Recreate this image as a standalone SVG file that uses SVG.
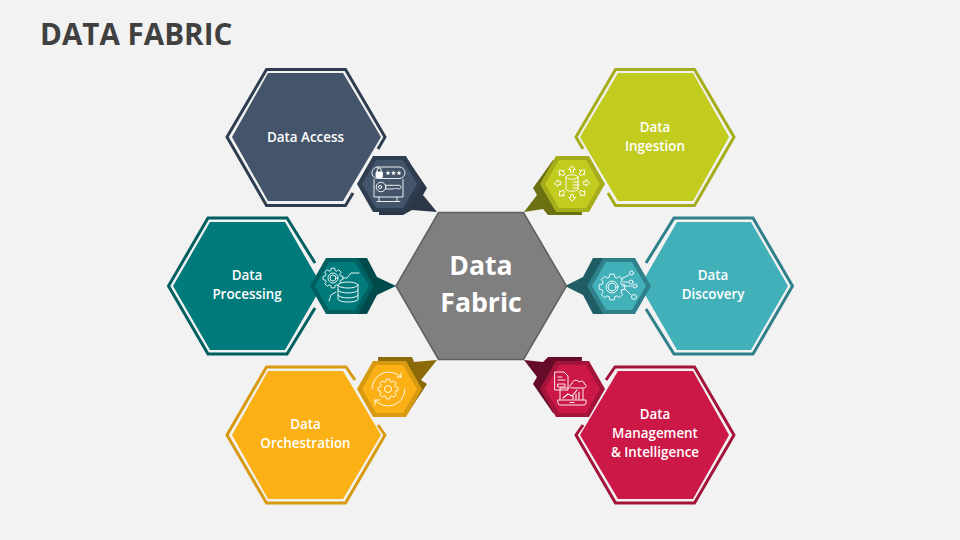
<svg xmlns="http://www.w3.org/2000/svg" width="960" height="540" viewBox="0 0 960 540">
<style>
text{font-family:"Open Sans","Noto Sans","Liberation Sans",sans-serif;text-anchor:middle;fill:#fff;font-weight:600;font-size:13.400px}
.title{font-size:29.600px;font-weight:700;fill:#404040;text-anchor:start}
.big{font-size:26.600px;font-weight:700}
.ring{fill:none;stroke-width:3}
.ic{fill:none;stroke:#fff;stroke-width:0.900;stroke-linejoin:round;stroke-linecap:round}
.star{fill:#fff;stroke:none}
</style>
<defs>
<polygon id="gear" points="7.5,-2.15 9.85,-1.74 9.85,1.74 7.5,2.15 6.82,3.78 8.19,5.74 5.74,8.19 3.78,6.82 2.15,7.5 1.74,9.85 -1.74,9.85 -2.15,7.5 -3.78,6.82 -5.74,8.19 -8.19,5.74 -6.82,3.78 -7.5,2.15 -9.85,1.74 -9.85,-1.74 -7.5,-2.15 -6.82,-3.78 -8.19,-5.74 -5.74,-8.19 -3.78,-6.82 -2.15,-7.5 -1.74,-9.85 1.74,-9.85 2.15,-7.5 3.78,-6.82 5.74,-8.19 8.19,-5.74 6.82,-3.78"/>
<path id="arr" d="M0,-3.500L3.200,0H1.400V2.800H-1.400V0H-3.200Z"/>
<polygon id="star" points="0,-2.400 0.700,-0.800 2.400,-0.700 1.100,0.400 1.500,2.100 0,1.200 -1.500,2.100 -1.100,0.400 -2.400,-0.700 -0.700,-0.800"/>
</defs>
<rect width="960" height="540" fill="#f2f2f2"/>
<text class="title" x="40" y="45">DATA FABRIC</text>

<g id="connectors">
<polygon fill="#2b3747" points="379,215 403,215 412,210 437,212 423,195 427,188 408,160 380,160"/>
<polygon fill="#6b7010" points="582,215 548,215 543,209 524,212 537,195 533,188 553,160 580,160"/>
<polygon fill="#004a4b" points="340,258 367,258 377,277 396,286 377,295 367,314 340,314"/>
<polygon fill="#1f5c63" points="621,258 593,258 583,277 565,286 583,295 593,314 621,314"/>
<polygon fill="#8c6a08" points="378,357 412,357 414,362 437,360 421,380 427,384 408,413 380,413"/>
<polygon fill="#650d28" points="582,357 548,357 543,362 524,360 537,377 533,384 553,413 580,413"/>
</g>

<g id="node-center">
<polygon points="396,286 438.500,212.500 523.500,212.500 566.500,286 523.500,359.500 438.500,359.500" fill="#7f7f7f" stroke="#5f5f5f" stroke-width="1.500"/>
<text class="big" x="481" y="275">Data</text>
<text class="big" x="481" y="312">Fabric</text>
</g>

<g id="node-access">
<polyline class="ring" stroke="#2f3d50" points="378,149 385,137 345.500,69.500 266.500,69.500 227,137 266.500,205.500 345.500,205.500 353,193"/>
<polygon fill="#44546a" points="232,137 268,73 343,73 381,137 343,201 268,201"/>
<text x="305.500" y="142">Data Access</text>
<polygon fill="#2f3d50" points="357,184 373,156 406,156 422,184 406,212 373,212"/>
<polygon fill="#44546a" points="362,184 376,160 403,160 417,184 403,208 376,208"/>
<g class="ic">
<rect x="372" y="167" width="33" height="11.500" rx="5.700"/>
<rect x="376" y="172" width="6.500" height="5.500" rx="0.800" fill="#fff"/><path d="M377.200,172v-2a2,2 0 0 1 4,0v2"/>
<path d="M374,179.500v17.500h29v-17.500M379,197v4M397,197v4M377,201.500h23"/>
<circle cx="381" cy="187" r="4.800"/><circle cx="380" cy="187" r="1.600"/>
<path d="M385.500,185.300h14l2,1.700l-2,2h-2l-1,-1l-1,1l-1,-1l-1,1h-8"/>
<use class="star" href="#star" transform="translate(388,173)"/>
<use class="star" href="#star" transform="translate(393.500,173)"/>
<use class="star" href="#star" transform="translate(399,173)"/>
</g>
</g>

<g id="node-ingestion">
<polyline class="ring" stroke="#a5ae1a" points="583,149 576,137 615.500,69.500 694.500,69.500 734,137 694.500,205.500 615.500,205.500 608,193"/>
<polygon fill="#c1cc1f" points="580,137 618,73 693,73 729,137 693,201 618,201"/>
<text x="655" y="131.500">Data</text><text x="655" y="150.500">Ingestion</text>
<polygon fill="#a5ae1a" points="540,184 556,156 589,156 605,184 589,212 556,212"/>
<polygon fill="#c1cc1f" points="545,184 559,160 586,160 600,184 586,208 559,208"/>
<g class="ic">
<path d="M566,177v12c0,3 12,3 12,0v-12"/><ellipse cx="572" cy="177" rx="6" ry="2.200"/>
<path d="M573,182h6M573,185h6M573,188h5" stroke-width="1.100"/>
<use href="#arr" transform="translate(572,169.500)"/>
<use href="#arr" transform="translate(572,197.500) rotate(180)"/>
<use href="#arr" transform="translate(558,183) rotate(270)"/>
<use href="#arr" transform="translate(586,183) rotate(90)"/>
<use href="#arr" transform="translate(562,173) rotate(315)"/>
<use href="#arr" transform="translate(582,173) rotate(45)"/>
<use href="#arr" transform="translate(562,193) rotate(225)"/>
<use href="#arr" transform="translate(582,193) rotate(135)"/>
</g>
</g>

<g id="node-processing">
<polyline class="ring" stroke="#005f60" points="315,263 287,218 208,218 168.500,286 208,354 287,354 315,308"/>
<polygon fill="#007a7b" points="173,286 210,222 285,222 322,286 285,350 210,350"/>
<text x="247" y="279.800">Data</text><text x="247" y="298.800">Processing</text>
<polygon fill="#005f60" points="310,286 326,258 358,258 374,286 358,314 326,314"/>
<polygon fill="#007a7b" points="315,286 329,262 355,262 369,286 355,310 329,310"/>
<g class="ic">
<use href="#gear" transform="translate(333,278)"/>
<circle cx="333" cy="278" r="5"/><circle cx="333" cy="278" r="3"/>
<path d="M343,278h4l4,-5h8M336,292l-5,3l-2,6"/>
<path d="M338,285v14c0,4 20,4 20,0v-14" fill="#007a7b"/><ellipse cx="348" cy="285" rx="10" ry="3" fill="#007a7b"/>
<path d="M338,290c0,4 20,4 20,0M338,295c0,4 20,4 20,0"/>
</g>
</g>

<g id="node-discovery">
<polyline class="ring" stroke="#2f808a" points="646,263 674,218 753,218 792.500,286 753,354 674,354 646,309"/>
<polygon fill="#41b0b9" points="640,286 677,222 751,222 788,286 751,350 677,350"/>
<text x="713" y="279.800">Data</text><text x="713" y="298.800">Discovery</text>
<polygon fill="#2f808a" points="587,286 603,258 635,258 651,286 635,314 603,314"/>
<polygon fill="#41b0b9" points="592,286 606,262 632,262 646,286 632,310 606,310"/>
<g class="ic">
<use href="#gear" transform="translate(612,287) scale(1.300)" stroke-width="0.700"/>
<circle cx="612" cy="287" r="6"/><circle cx="612" cy="287" r="4"/>
<path d="M621,279l8,-4M623,282h5M622,286h10M622,290l3,-1l6,6"/>
<circle cx="631.500" cy="273" r="2"/><circle cx="631" cy="282" r="2"/><circle cx="635" cy="286" r="2"/><circle cx="634" cy="297" r="2.500"/>
</g>
</g>

<g id="node-orchestration">
<polyline class="ring" stroke="#d79a10" points="355,380 346,367 266.500,367 227,435 266.500,503 345.500,503 385,435 378,425"/>
<polygon fill="#fbb116" points="232,435 268,371 343,371 381,435 343,499 268,499"/>
<text x="305.500" y="428.800">Data</text><text x="305.500" y="447.800">Orchestration</text>
<polygon fill="#d79a10" points="357,389 373,361 406,361 422,389 406,417 373,417"/>
<polygon fill="#fbb116" points="362,389 376,365 403,365 417,389 403,413 376,413"/>
<g class="ic">
<use href="#gear" transform="translate(388,389)"/>
<circle cx="388" cy="389" r="3.500"/>
<path d="M372,389a17,17 0 0 1 29,-12M401,373v4h-4M405,389a17,17 0 0 1 -30,11M375,405v-5h5"/>
</g>
</g>

<g id="node-management">
<polyline class="ring" stroke="#a3133a" points="606,380 615,367 694.500,367 734,435 694.500,503 615.500,503 576,435 583,425"/>
<polygon fill="#cc1847" points="580,435 618,371 693,371 729,435 693,499 618,499"/>
<text x="655" y="418.500">Data</text><text x="655" y="437.500">Management</text><text x="655" y="456.500">&amp; Intelligence</text>
<polygon fill="#a3133a" points="540,389 556,361 589,361 605,389 589,417 556,417"/>
<polygon fill="#cc1847" points="545,389 559,365 586,365 600,389 586,413 559,413"/>
<g class="ic">
<path d="M555,372h9l4,4v14h-13zM558,377h4M558,380h7M558,384h7v3h-7z"/>
<path d="M572,388c-3,0 -3,-4 0,-4c0,-4 5,-5 7,-2c3,-2 6,0 5,2c3,0 3,4 0,4z" fill="#cc1847"/>
<path d="M560,400v-12h9M583,389v11M558,400h28v3a2,2 0 0 1 -2,2h-24a2,2 0 0 1 -2,-2zM570,402.500h4"/>
<path d="M563,398l5,-4l4,2l5,-6M573,399v-3M576,399v-5M579,399v-7" stroke-width="1.100"/>
</g>
</g>
</svg>
